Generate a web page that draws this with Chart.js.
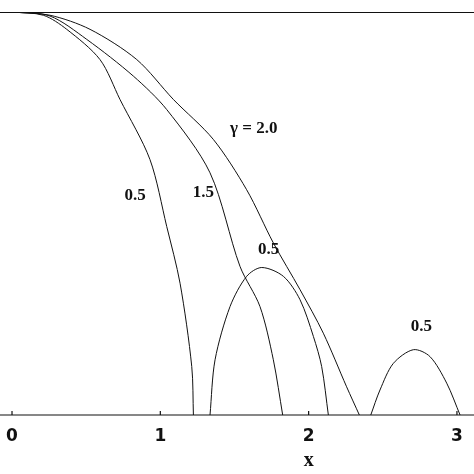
<!DOCTYPE html>
<html><head><meta charset="utf-8">
<script src="https://cdn.jsdelivr.net/npm/chart.js@4"></script>
<style>html,body{margin:0;padding:0;background:#fff}#w{width:474px;height:474px}</style>
</head><body><div id="w"><canvas id="c"></canvas></div>
<script>
const g05a_x=[0,0.211,0.369,0.593,0.728,0.93,1.043,1.133,1.212,1.223];
const g05a_y=[1,0.992,0.957,0.882,0.783,0.634,0.468,0.327,0.12,0];
const g05b_x=[1.335,1.369,1.47,1.582,1.684,1.83,1.942,2.032,2.088,2.133];
const g05b_y=[0,0.137,0.269,0.344,0.366,0.344,0.286,0.195,0.12,0];
const g05c_x=[2.419,2.481,2.571,2.706,2.818,2.931,3.021];
const g05c_y=[0,0.062,0.128,0.162,0.145,0.079,0];
const g15_x=[0,0.256,0.504,0.818,1.043,1.335,1.537,1.672,1.762,1.825];
const g15_y=[1,0.99,0.932,0.841,0.758,0.601,0.369,0.269,0.137,0];
const g20_x=[0,0.256,0.526,0.841,1.088,1.357,1.582,1.762,1.942,2.099,2.256,2.342];
const g20_y=[1,0.992,0.957,0.882,0.783,0.684,0.559,0.427,0.311,0.203,0.07,0];
const xTicks=[0,1,2,3];
const labels=[{t:"γ = 2.0",x:1.63,y:0.71},{t:"0.5",x:0.83,y:0.545},{t:"1.5",x:1.29,y:0.552},{t:"0.5",x:1.73,y:0.41},{t:"0.5",x:2.76,y:0.22}];
const pts=(xs,ys)=>xs.map((x,i)=>({x,y:ys[i]}));
const ds=(xs,ys)=>({data:pts(xs,ys),showLine:true,borderColor:'#111',borderWidth:1,pointRadius:0,tension:0.3,fill:false});
const deco={id:'deco',afterDraw(ch){
 const c=ch.ctx,a=ch.chartArea,sx=ch.scales.x,sy=ch.scales.y;
 c.save();c.strokeStyle='#111';c.lineWidth=1.2;
 c.beginPath();c.moveTo(a.left,a.top+0.5);c.lineTo(a.right,a.top+0.5);
 c.moveTo(a.left,a.bottom);c.lineTo(a.right,a.bottom);c.stroke();
 c.fillStyle='#111';c.textAlign='center';c.textBaseline='middle';
 c.font='bold 17px "DejaVu Sans"';
 xTicks.forEach(v=>{const px=sx.getPixelForValue(v);c.beginPath();c.moveTo(px,a.bottom);c.lineTo(px,a.bottom-4);c.stroke();c.fillText(String(v),px,a.bottom+22);});
 c.font='bold 20px "Liberation Serif"';c.fillText('x',sx.getPixelForValue(2),a.bottom+46);
 c.font='bold 17px "Liberation Serif"';
 labels.forEach(l=>c.fillText(l.t,sx.getPixelForValue(l.x),sy.getPixelForValue(l.y)));
 c.restore();}};
new Chart(document.getElementById('c'),{type:'scatter',
 data:{datasets:[ds(g05a_x,g05a_y),ds(g05b_x,g05b_y),ds(g05c_x,g05c_y),ds(g15_x,g15_y),ds(g20_x,g20_y)]},
 options:{responsive:true,maintainAspectRatio:false,animation:false,
  layout:{padding:{left:0,right:0,top:12,bottom:59}},
  plugins:{legend:{display:false},tooltip:{enabled:false}},
  scales:{x:{type:'linear',min:-0.081,max:3.115,display:false},y:{min:0,max:1,display:false}}},
 plugins:[deco]});
</script></body></html>
